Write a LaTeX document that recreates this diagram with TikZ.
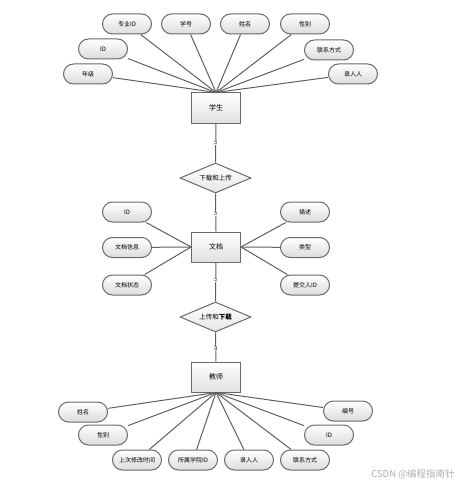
\documentclass[tikz,border=0pt]{standalone}
\usepackage{fontspec}
\setmainfont{Noto Sans CJK SC}
\newfontfamily\wmfont{Noto Sans CJK SC}
\usepackage{tikz}
\usetikzlibrary{shapes,arrows}
\usetikzlibrary{shapes.geometric}

\tikzset{
  entity/.style={draw={rgb,255:red,105;green,105;blue,105}, line width=1pt, top color=white, bottom color={rgb,255:red,225;green,225;blue,225}, minimum width=49pt, minimum height=30pt, inner sep=0.75pt, font=\fontsize{7}{8}\selectfont},
  attrib/.style={draw={rgb,255:red,105;green,105;blue,105}, line width=1pt, rounded corners=10pt, top color=white, bottom color={rgb,255:red,220;green,220;blue,220}, minimum width=49pt, minimum height=20pt, inner sep=0.75pt, font=\fontsize{6}{7}\selectfont},
  relation/.style={draw={rgb,255:red,105;green,105;blue,105}, line width=1pt, diamond, aspect=2.4, top color=white, bottom color={rgb,255:red,230;green,230;blue,230}, minimum width=71pt, minimum height=30pt, inner sep=0.5pt, font=\fontsize{6.5}{7}\selectfont},
  link/.style={draw={rgb,255:red,95;green,95;blue,95}, line width=1pt},
  card/.style={inner sep=0.5pt, rotate=-90, font=\fontsize{5}{5}\selectfont, fill=white}
}

\begin{document}
\begin{tikzpicture}[x=1pt,y=1pt,yscale=-1,xscale=1]
    \useasboundingbox (0,0) rectangle (474,484);

    % Entities
    \node [entity] (stu) at (216,108) {学生};
    \node [entity] (doc) at (216,247) {文档};
    \node [entity] (tea) at (216,377) {教师};

    % Relations
    \node [relation] (rel1) at (215.5,178) {下载和上传};
    \node [relation] (rel2) at (215.5,317) {上传和\textbf{下载}};

    % Student attributes
    \node [attrib] (s1) at (127,24) {专业ID};
    \node [attrib] (s2) at (186,24) {学号};
    \node [attrib] (s3) at (245,24) {姓名};
    \node [attrib] (s4) at (305,24) {性别};
    \node [attrib] (s5) at (103,49) {ID};
    \node [attrib] (s6) at (329,50) {联系方式};
    \node [attrib] (s7) at (88,74) {年级};
    \node [attrib] (s8) at (353,74) {录入人};

    % Document attributes
    \node [attrib] (d1) at (127,212) {ID};
    \node [attrib] (d2) at (127,247.5) {文档信息};
    \node [attrib] (d3) at (127,285) {文档状态};
    \node [attrib] (d4) at (305,212) {描述};
    \node [attrib] (d5) at (305,247.5) {类型};
    \node [attrib] (d6) at (305,285) {提交人ID};

    % Teacher attributes
    \node [attrib] (t1) at (83,412) {姓名};
    \node [attrib] (t2) at (103,435) {性别};
    \node [attrib] (t3) at (137,460) {上次修改时间};
    \node [attrib] (t4) at (193,460) {所属学院ID};
    \node [attrib] (t5) at (249,460) {录入人};
    \node [attrib] (t6) at (305,460) {联系方式};
    \node [attrib] (t7) at (348,411) {编号};
    \node [attrib] (t8) at (329,435) {ID};

    % Connectors
    \foreach \a in {s1,s2,s3,s4,s5,s6,s7,s8}
      \draw [link] (\a) -- (stu.north);
    \foreach \a in {d1,d2,d3}
      \draw [link] (\a) -- (doc.west);
    \foreach \a in {d4,d5,d6}
      \draw [link] (\a) -- (doc.east);
    \foreach \a in {t1,t2,t3,t4,t5,t6,t7,t8}
      \draw [link] (\a) -- (tea.south);

    \draw [link] (stu.south) -- node [card] (c1) {n} (rel1.north);
    \draw [link] (rel1.south) -- node [card, pos=0.55] (c2) {n} (doc.north);
    \draw [link] (doc.south) -- node [card, pos=0.45] (c3) {n} (rel2.north);
    \draw [link] (rel2.south) -- node [card, pos=0.55] (c4) {m} (tea.north);

    % Text Node
    \node [text={rgb,255:red,175;green,175;blue,175}, font=\wmfont\fontsize{9.5}{10}\selectfont, inner sep=0.75pt] (wm) at (413,474) {CSDN @编程指南针};

\end{tikzpicture}
\end{document}
